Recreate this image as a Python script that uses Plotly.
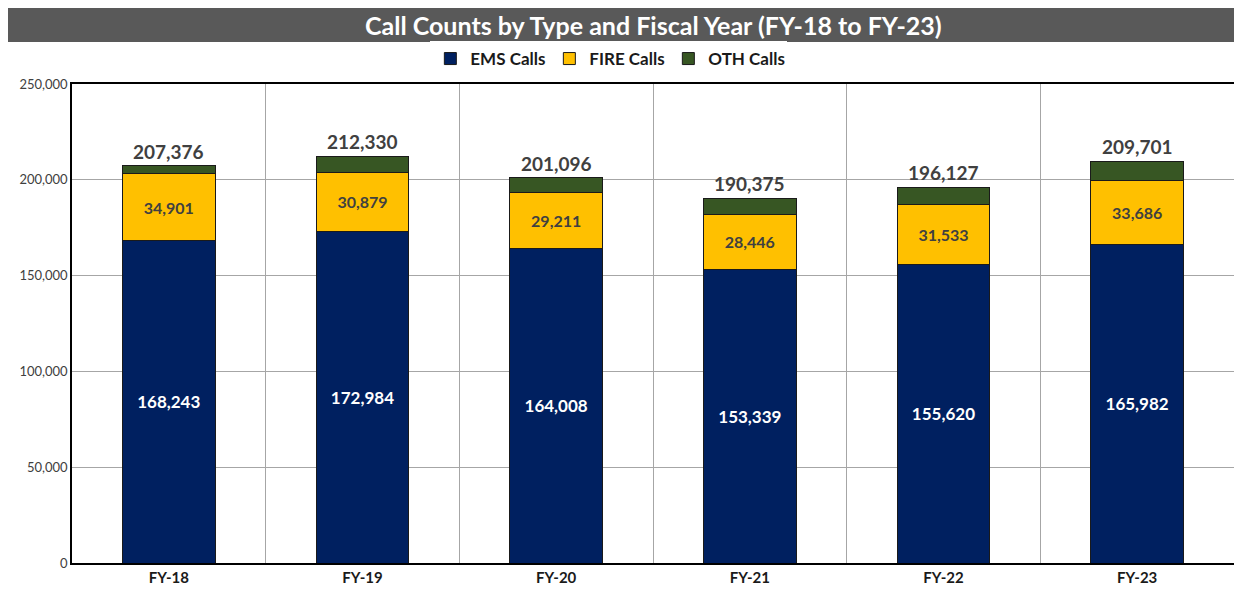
import plotly.graph_objects as go

# data
years = ["FY-18", "FY-19", "FY-20", "FY-21", "FY-22", "FY-23"]
ems_calls = [168243, 172984, 164008, 153339, 155620, 165982]
fire_calls = [34901, 30879, 29211, 28446, 31533, 33686]
oth_calls = [4232, 8467, 7877, 8590, 8974, 10033]
totals = [207376, 212330, 201096, 190375, 196127, 209701]

font_main = "Lato, 'Open Sans', sans-serif"
# page has an 8px body margin, so the figure is a bit smaller than the window
W, H = 1234, 592
m_l, m_r, m_t, m_b = 64, 8, 76, 37
plot_w = W - m_l - m_r
plot_h = H - m_t - m_b

fig = go.Figure()

fig.add_trace(go.Bar(
    x=years, y=ems_calls, name="EMS Calls",
    marker=dict(color="#002060", line=dict(color="#1a1a1a", width=1)),
    text=[f"{v:,}" for v in ems_calls], textposition="inside",
    insidetextanchor="middle",
    textfont=dict(color="white", size=17, family=font_main, weight="bold"),
))
fig.add_trace(go.Bar(
    x=years, y=fire_calls, name="FIRE Calls",
    marker=dict(color="#ffc000", line=dict(color="#1a1a1a", width=1)),
    text=[f"{v:,}" for v in fire_calls], textposition="inside",
    insidetextanchor="middle",
    textfont=dict(color="#404040", size=16, family=font_main, weight="bold"),
))
fig.add_trace(go.Bar(
    x=years, y=oth_calls, name="OTH Calls",
    marker=dict(color="#375623", line=dict(color="#1a1a1a", width=1)),
    hoverinfo="y",
))

# totals above each stack
for yr, tot in zip(years, totals):
    fig.add_annotation(x=yr, y=tot, text=f"{tot:,}", showarrow=False,
                       yanchor="bottom", yshift=1,
                       font=dict(color="#404040", size=19, family=font_main,
                                 weight="bold"))

# dark title band across the top
band_top = 1 + m_t / plot_h
band_bot = 1 + (m_t - 34) / plot_h
fig.add_shape(type="rect", xref="paper", yref="paper",
              x0=-m_l / plot_w, x1=1 + (m_r - 2) / plot_w,
              y0=band_bot, y1=band_top,
              fillcolor="#595959", line=dict(width=0), layer="below")

fig.add_annotation(text="Call Counts by Type and Fiscal Year (FY-18 to FY-23)",
                   xref="paper", yref="paper", x=0.5, xanchor="center",
                   y=1 + (m_t - 17) / plot_h, yanchor="middle",
                   showarrow=False,
                   font=dict(color="white", size=25, family=font_main, weight="bold"))

fig.update_layout(
    width=W, height=H,
    barmode="stack", bargap=0.52,
    margin=dict(l=m_l, r=m_r, t=m_t, b=m_b, autoexpand=False),
    paper_bgcolor="white", plot_bgcolor="white",
    font=dict(family=font_main, color="#404040"),
    legend=dict(orientation="h", x=0.462, xanchor="center", y=1 + 25 / plot_h,
                yanchor="middle", traceorder="normal", entrywidth=74,
                font=dict(size=17, color="#1a1a1a", weight="bold")),
)

fig.update_xaxes(
    type="category", tickson="boundaries", showgrid=True, gridcolor="#a6a6a6",
    gridwidth=1, ticks="", showline=True, linecolor="black", linewidth=1.5,
    mirror=True, automargin=False,
    tickfont=dict(size=15, color="#1a1a1a", weight="bold"),
)
fig.update_yaxes(
    range=[0, 250000], dtick=50000, tickformat=",", showgrid=True,
    gridcolor="#a6a6a6", gridwidth=1, showline=True, linecolor="black",
    linewidth=1.5, mirror=True, ticks="", zeroline=False, automargin=False,
    tickfont=dict(size=13, color="#404040"),
)

fig.write_html("out.html")
